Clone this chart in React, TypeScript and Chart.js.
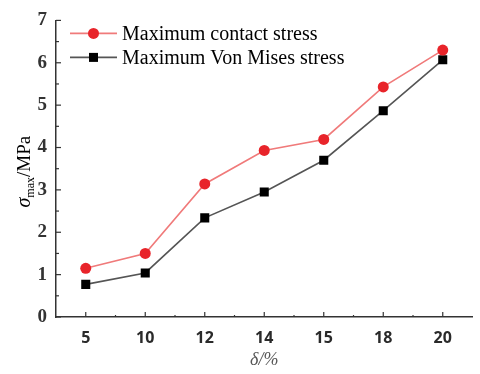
import { useEffect, useRef } from 'react';
import { Chart, registerables } from 'chart.js';
Chart.register(...registerables);

const categories = ['5', '10', '12', '14', '15', '18', '20'];
const contactStress = [1.15, 1.5, 3.14, 3.93, 4.19, 5.43, 6.3];
const vonMisesStress = [0.77, 1.04, 2.34, 2.95, 3.7, 4.87, 6.07];
const seriesLabels = ['Maximum contact stress', 'Maximum Von Mises stress'];
const yMin = 0;
const yMax = 7;

const SERIF = '"Liberation Serif", "Times New Roman", serif';

const decor = {
  id: 'decor',
  afterDraw(chart: any) {
    const ctx = chart.ctx as CanvasRenderingContext2D;
    const xs = chart.scales.x;
    const ys = chart.scales.y;
    const { left, top, bottom } = chart.chartArea;
    ctx.save();
    ctx.strokeStyle = '#333';
    ctx.lineWidth = 1.2;
    const line = (x1: number, y1: number, x2: number, y2: number) => {
      ctx.beginPath();
      ctx.moveTo(x1, y1);
      ctx.lineTo(x2, y2);
      ctx.stroke();
    };
    // y ticks (inward)
    for (let v = yMin; v <= yMax; v += 0.5) {
      const py = ys.getPixelForValue(v);
      const len = Number.isInteger(v) ? 5 : 3;
      line(left, py, left + len, py);
    }
    // x ticks
    for (let i = 0; i < categories.length; i++) {
      const px = xs.getPixelForValue(i);
      line(px, bottom, px, bottom - 5);
    }
    for (let i = 0; i < categories.length - 1; i++) {
      const px = (xs.getPixelForValue(i) + xs.getPixelForValue(i + 1)) / 2;
      line(px, bottom, px, bottom - 2);
    }

    // legend
    const ds = chart.data.datasets;
    ds.forEach((d: any, i: number) => {
      const cy = top + 13 + i * 24;
      const x0 = left + 14;
      const x1 = left + 61;
      ctx.strokeStyle = d.borderColor;
      ctx.lineWidth = d.borderWidth;
      line(x0, cy, x1, cy);
      const mx = (x0 + x1) / 2;
      ctx.fillStyle = d.pointBackgroundColor;
      if (d.pointStyle === 'rect') {
        ctx.fillRect(mx - 4.5, cy - 4.5, 9, 9);
      } else {
        ctx.beginPath();
        ctx.arc(mx, cy, 5.5, 0, Math.PI * 2);
        ctx.fill();
      }
      ctx.fillStyle = '#000';
      ctx.font = `20px ${SERIF}`;
      ctx.textBaseline = 'middle';
      ctx.textAlign = 'left';
      ctx.fillText(d.label, x1 + 5, cy + 1);
    });

    // y title: σ_max/MPa
    ctx.translate(30, (top + bottom) / 2 + 3);
    ctx.rotate(-Math.PI / 2);
    ctx.fillStyle = '#000';
    ctx.textBaseline = 'alphabetic';
    ctx.textAlign = 'left';
    const f1 = `italic 20px ${SERIF}`;
    const f2 = `12px ${SERIF}`;
    const f3 = `19px ${SERIF}`;
    ctx.font = f1;
    const w1 = ctx.measureText('σ').width;
    ctx.font = f2;
    const w2 = ctx.measureText('max').width;
    ctx.font = f3;
    const w3 = ctx.measureText('/MPa').width;
    let sx = -(w1 + w2 + w3) / 2;
    ctx.font = f1;
    ctx.fillText('σ', sx, 0);
    sx += w1;
    ctx.font = f2;
    ctx.fillText('max', sx, 4);
    sx += w2;
    ctx.font = f3;
    ctx.fillText('/MPa', sx, 0);
    ctx.restore();
  },
};

export default function App() {
  const ref = useRef<HTMLCanvasElement>(null);
  useEffect(() => {
    document.body.style.margin = '0';
    const chart = new Chart(ref.current!, {
      type: 'line',
      data: {
        labels: categories,
        datasets: [
          {
            label: seriesLabels[0],
            data: contactStress,
            borderColor: '#f07a7a',
            borderWidth: 1.6,
            pointStyle: 'circle',
            pointRadius: 5.5,
            pointBackgroundColor: '#e8242a',
            pointBorderColor: '#e8242a',
            pointBorderWidth: 0,
          },
          {
            label: seriesLabels[1],
            data: vonMisesStress,
            borderColor: '#555',
            borderWidth: 1.6,
            pointStyle: 'rect',
            pointRadius: 6.4,
            pointBackgroundColor: '#000',
            pointBorderColor: '#000',
            pointBorderWidth: 0,
          },
        ],
      },
      options: {
        animation: false,
        responsive: false,
        layout: { padding: { top: 18, right: 7.5, left: 0, bottom: 0 } },
        plugins: { legend: { display: false }, tooltip: { enabled: false } },
        scales: {
          x: {
            type: 'category',
            offset: true,
            grid: { display: false, drawTicks: false },
            border: { display: true, color: '#333', width: 1.5 },
            ticks: {
              padding: 12,
              color: '#2a2a2a',
              font: { family: '"Noto Sans", sans-serif', size: 16, weight: 'bold' },
            },
            title: {
              display: true,
              text: 'δ/%',
              color: '#555',
              font: { family: SERIF, size: 18, style: 'italic' },
              padding: { top: 0, bottom: 3 },
            },
            afterFit: (s: any) => {
              s.height = 57;
            },
          },
          y: {
            min: yMin,
            max: yMax,
            grid: { display: false, drawTicks: false },
            border: { display: true, color: '#333', width: 1.5 },
            ticks: {
              stepSize: 1,
              padding: 9,
              color: '#333',
              font: { family: SERIF, size: 19, weight: 'bold' },
            },
            afterFit: (s: any) => {
              s.width = 56;
            },
          },
        },
      },
      plugins: [decor],
    });
    return () => chart.destroy();
  }, []);
  return <canvas ref={ref} width={480} height={374} style={{ display: 'block' }} />;
}
